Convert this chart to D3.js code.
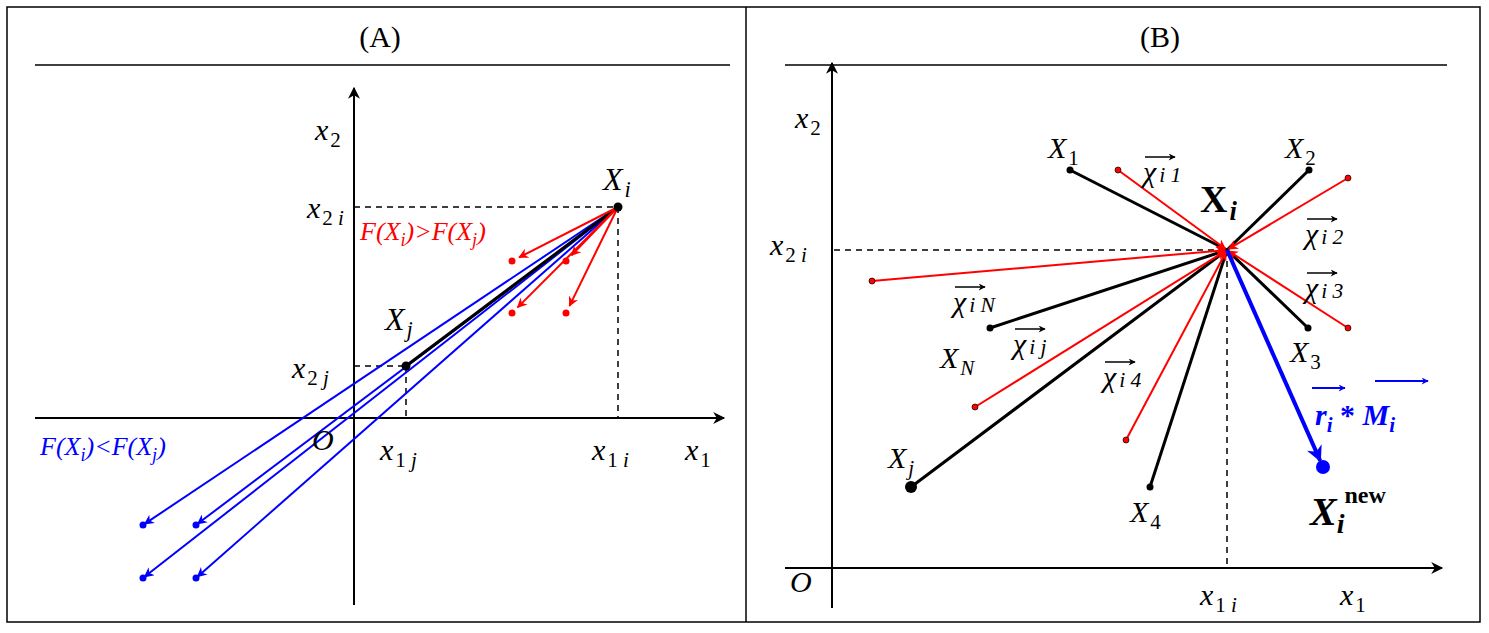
<!DOCTYPE html>
<html><head><meta charset="utf-8">
<script src="https://cdn.jsdelivr.net/npm/d3@7"></script>
<style>body{margin:0;background:#fff}text{font-family:"Liberation Serif",serif}</style>
</head><body>
<svg id="c" width="1489" height="633"></svg>
<script>
// panel A data (units of 10px from origin)
var aXi = [26.4, 21.1];
var aXj = [5.2, 5.2];
var aRed = [[15.8, 15.7], [21.2, 15.7], [15.8, 10.5], [21.2, 10.5]];
var aBlue = [[-21.1, -10.7], [-15.8, -10.7], [-21.1, -16], [-15.8, -16]];
// panel B data
var bXi = [39.5, 31.8];
var bBlack = [[23.8, 39.8], [47.7, 39.8], [47.6, 24], [31.8, 8.1], [15.8, 24]];
var bBlackNames = ["1", "2", "3", "4", "N"];
var bXj = [7.9, 8.1];
var bRed = [[28.6, 39.8], [51.6, 39], [51.6, 24], [29.4, 12.8], [14.3, 16.1], [4, 28.7]];
var bNew = [49.1, 10.1];

var svg = d3.select("#c");
var sxA = d3.scaleLinear().domain([0, 10]).range([354, 454]);
var syA = d3.scaleLinear().domain([0, 10]).range([418, 318]);
var sxB = d3.scaleLinear().domain([0, 10]).range([832, 932]);
var syB = d3.scaleLinear().domain([0, 10]).range([568, 468]);

var defs = svg.append("defs");
function marker(id, color, w, h) {
    defs.append("marker").attr("id", id).attr("viewBox", "0 0 10 10").attr("refX", 9).attr("refY", 5)
        .attr("markerWidth", w).attr("markerHeight", h).attr("markerUnits", "userSpaceOnUse").attr("orient", "auto")
        .append("path").attr("d", "M0,0 L10,5 L0,10 L3,5 z").attr("fill", color);
}
marker("ak", "#000", 14, 12);
marker("ar", "red", 14, 10);
marker("ab", "blue", 14, 10);
marker("abb", "blue", 22, 16);
marker("sk", "#000", 9, 7);
marker("sb", "blue", 10, 7);

svg.append("rect").attr("x", 7).attr("y", 7).attr("width", 1473).attr("height", 615).attr("fill", "none").attr("stroke", "#000").attr("stroke-width", 1.5);
svg.append("line").attr("x1", 746).attr("x2", 746).attr("y1", 7).attr("y2", 622).attr("stroke", "#000").attr("stroke-width", 1.5);
svg.append("line").attr("x1", 35).attr("x2", 730).attr("y1", 65).attr("y2", 65).attr("stroke", "#000").attr("stroke-width", 1.5);
svg.append("line").attr("x1", 785).attr("x2", 1447).attr("y1", 65).attr("y2", 65).attr("stroke", "#000").attr("stroke-width", 1.5);

function txt(x, y, s, opts) {
    opts = opts || {};
    var t = svg.append("text").attr("x", x).attr("y", y).attr("font-size", opts.size || 30)
        .attr("fill", opts.color || "#000").attr("font-style", opts.italic === false ? "normal" : "italic")
        .attr("font-weight", opts.bold ? "bold" : "normal").attr("text-anchor", opts.anchor || "start");
    if (s) t.text(s);
    return t;
}
function sub(t, main, s, dy) {
    t.append("tspan").text(main);
    var parts = s.split(" ");
    var sp = t.append("tspan").attr("font-size", "0.7em").attr("dy", dy || 7).attr("dx", 2);
    parts.forEach(function (p, i) {
        sp.append("tspan").attr("font-style", /\d/.test(p) ? "normal" : "italic").text((i ? " " : "") + p);
    });
}
function line(x1, y1, x2, y2, o) {
    var l = svg.append("line").attr("x1", x1).attr("y1", y1).attr("x2", x2).attr("y2", y2)
        .attr("stroke", o.color || "#000").attr("stroke-width", o.w || 2);
    if (o.dash) l.attr("stroke-dasharray", o.dash);
    if (o.marker) l.attr("marker-end", "url(#" + o.marker + ")");
    return l;
}
function shorten(x1, y1, x2, y2, d) {
    var L = Math.hypot(x2 - x1, y2 - y1);
    return [x2 - (x2 - x1) * d / L, y2 - (y2 - y1) * d / L];
}

txt(380, 47, "(A)", {italic: false, anchor: "middle"});
txt(1160, 47, "(B)", {italic: false, anchor: "middle"});

// ---- panel A
line(sxA(-31.9), syA(0), sxA(37), syA(0), {marker: "ak"});
line(sxA(0), syA(-18.7), sxA(0), syA(33), {marker: "ak"});
line(sxA(0), syA(aXi[1]), sxA(aXi[0]), syA(aXi[1]), {dash: "6,5", w: 1.5});
line(sxA(aXi[0]), syA(aXi[1]), sxA(aXi[0]), syA(0), {dash: "6,5", w: 1.5});
line(sxA(0), syA(aXj[1]), sxA(aXj[0]), syA(aXj[1]), {dash: "6,5", w: 1.5});
line(sxA(aXj[0]), syA(aXj[1]), sxA(aXj[0]), syA(0), {dash: "6,5", w: 1.5});
aBlue.forEach(function (p) {
    var e = shorten(sxA(aXi[0]), syA(aXi[1]), sxA(p[0]), syA(p[1]), 2);
    line(sxA(aXi[0]), syA(aXi[1]), e[0], e[1], {color: "blue", marker: "ab"});
    svg.append("circle").attr("cx", sxA(p[0])).attr("cy", syA(p[1])).attr("r", 3.5).attr("fill", "blue");
});
line(sxA(aXi[0]), syA(aXi[1]), sxA(aXj[0]), syA(aXj[1]), {w: 3});
aRed.forEach(function (p) {
    var e = shorten(sxA(aXi[0]), syA(aXi[1]), sxA(p[0]), syA(p[1]), 8);
    line(sxA(aXi[0]), syA(aXi[1]), e[0], e[1], {color: "red", marker: "ar"});
    svg.append("circle").attr("cx", sxA(p[0])).attr("cy", syA(p[1])).attr("r", 3.5).attr("fill", "red");
});
svg.append("circle").attr("cx", sxA(aXi[0])).attr("cy", syA(aXi[1])).attr("r", 4.5).attr("fill", "#000");
svg.append("circle").attr("cx", sxA(aXj[0])).attr("cy", syA(aXj[1])).attr("r", 4.5).attr("fill", "#000");

sub(txt(315, 140), "x", "2");
sub(txt(307, 218), "x", "2 i");
sub(txt(292, 378), "x", "2 j");
sub(txt(380, 460), "x", "1 j");
sub(txt(592, 460), "x", "1 i");
sub(txt(685, 460), "x", "1");
txt(312, 450, "O");
sub(txt(603, 190, "", {size: 32}), "X", "i");
sub(txt(385, 330, "", {size: 32}), "X", "j");
function fLabel(x, y, color, op) {
    var r = txt(x, y, "", {color: color, size: 26});
    r.append("tspan").text("F(X");
    r.append("tspan").attr("font-size", "0.7em").attr("dy", 6).text("i");
    r.append("tspan").attr("dy", -6).text(")" + op + "F(X");
    r.append("tspan").attr("font-size", "0.7em").attr("dy", 6).text("j");
    r.append("tspan").attr("dy", -6).text(")");
}
fLabel(360, 240, "red", ">");
fLabel(40, 455, "blue", "<");

// ---- panel B
line(sxB(-4.7), syB(0), sxB(61), syB(0), {marker: "ak"});
line(sxB(0), syB(-4), sxB(0), syB(50.5), {marker: "ak"});
line(sxB(0.2), syB(bXi[1]), sxB(bXi[0]), syB(bXi[1]), {dash: "6,5", w: 1.5});
line(sxB(bXi[0]), syB(bXi[1]), sxB(bXi[0]), syB(0), {dash: "6,5", w: 1.5});
var cx = sxB(bXi[0]), cy = syB(bXi[1]);
bBlack.forEach(function (p) {
    line(cx, cy, sxB(p[0]), syB(p[1]), {w: 3});
    svg.append("circle").attr("cx", sxB(p[0])).attr("cy", syB(p[1])).attr("r", 3.5).attr("fill", "#000");
});
line(cx, cy, sxB(bXj[0]), syB(bXj[1]), {w: 3});
svg.append("circle").attr("cx", sxB(bXj[0])).attr("cy", syB(bXj[1])).attr("r", 6).attr("fill", "#000");
bRed.forEach(function (p) {
    var e = shorten(sxB(p[0]), syB(p[1]), cx, cy, 2);
    line(sxB(p[0]), syB(p[1]), e[0], e[1], {color: "red", marker: "ar"});
    svg.append("circle").attr("cx", sxB(p[0])).attr("cy", syB(p[1])).attr("r", 3).attr("fill", "red").attr("stroke", "#000").attr("stroke-width", 0.7);
});
var en = shorten(cx, cy, sxB(bNew[0]), syB(bNew[1]), 7);
line(cx, cy, en[0], en[1], {color: "blue", w: 4, marker: "abb"});
svg.append("circle").attr("cx", sxB(bNew[0])).attr("cy", syB(bNew[1])).attr("r", 7).attr("fill", "blue");

sub(txt(795, 128), "x", "2");
sub(txt(770, 255), "x", "2 i");
sub(txt(1200, 605), "x", "1 i");
sub(txt(1340, 605), "x", "1");
txt(790, 592, "O");
var bl = [[1048, 158], [1285, 158], [1290, 362], [1130, 522], [940, 368]];
bBlackNames.forEach(function (n, i) { sub(txt(bl[i][0], bl[i][1]), "X", n); });
sub(txt(888, 468), "X", "j");
sub(txt(1200, 212, "", {size: 38, bold: true, italic: false}), "X", "i", 8);
function chi(x, y, s) {
    var t = txt(x, y);
    t.append("tspan").text("χ");
    t.append("tspan").attr("font-size", "0.72em").attr("dx", 3).text(s);
    svg.append("line").attr("x1", x + 2).attr("x2", x + 32).attr("y1", y - 25).attr("y2", y - 25)
        .attr("stroke", "#000").attr("stroke-width", 1.5).attr("marker-end", "url(#sk)");
}
chi(1143, 182, "i 1");
chi(1305, 244, "i 2");
chi(1305, 298, "i 3");
chi(953, 312, "i N");
chi(1013, 354, "i j");
chi(1103, 387, "i 4");
// r_i * M_i
var rm = txt(1315, 425, "", {color: "blue", size: 30, bold: true});
rm.append("tspan").text("r");
rm.append("tspan").attr("font-size", "0.7em").attr("dy", 7).text("i");
rm.append("tspan").attr("dy", -7).attr("font-style", "normal").text(" * ");
rm.append("tspan").text("M");
rm.append("tspan").attr("font-size", "0.7em").attr("dy", 7).text("i");
svg.append("line").attr("x1", 1312).attr("x2", 1345).attr("y1", 388).attr("y2", 388).attr("stroke", "blue").attr("stroke-width", 1.8).attr("marker-end", "url(#sb)");
svg.append("line").attr("x1", 1375).attr("x2", 1428).attr("y1", 381).attr("y2", 381).attr("stroke", "blue").attr("stroke-width", 1.8).attr("marker-end", "url(#sb)");
var xn = txt(1310, 525, "", {size: 40, bold: true});
xn.append("tspan").text("X");
xn.append("tspan").attr("font-size", "0.7em").attr("dy", 8).text("i");
xn.append("tspan").attr("font-size", "0.6em").attr("dy", -30).attr("font-style", "normal").text("new");
</script>
</body></html>
